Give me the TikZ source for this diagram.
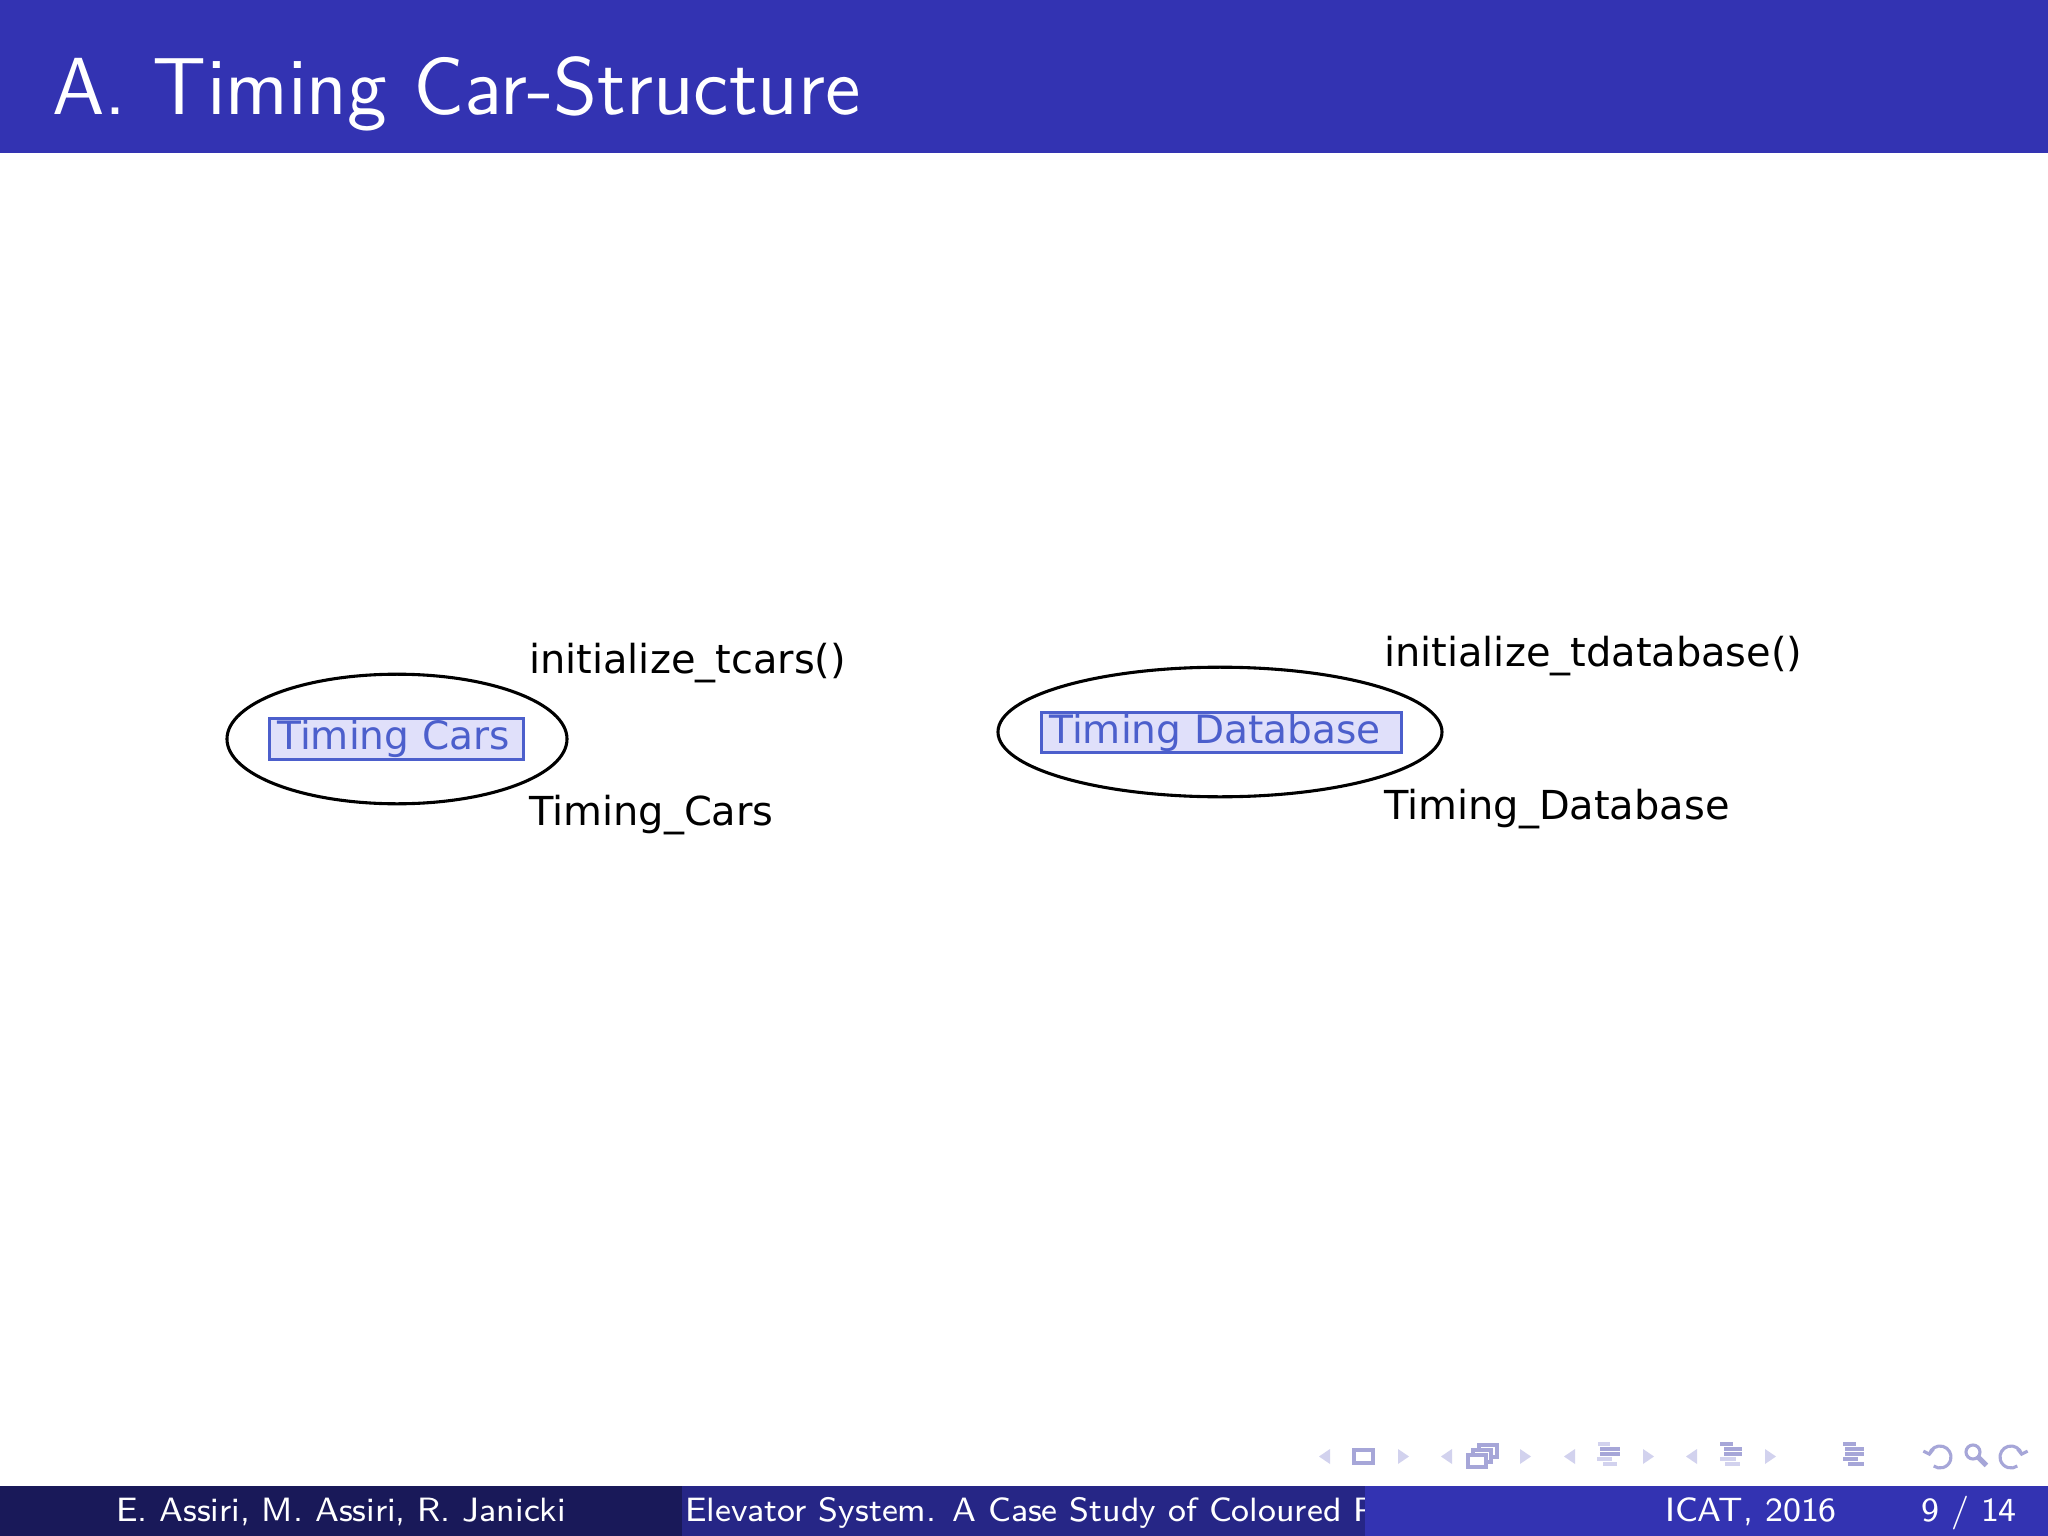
\documentclass[tikz,border=0pt]{standalone}
\usepackage{fontspec}
\newfontfamily\dejavu{DejaVu Sans}
\usetikzlibrary{shapes.geometric}
\definecolor{struct}{rgb}{0.2,0.2,0.7}
\colorlet{footA}{struct!50!black}
\colorlet{footB}{struct!75!black}
\definecolor{boxblue}{HTML}{4C5FCC}
\definecolor{boxfill}{HTML}{E0E0FA}
\definecolor{navlight}{HTML}{D2D2EE}
\definecolor{navdark}{HTML}{A6A6D8}
\tikzset{
  placeell/.style={draw=black, line width=0.55pt, ellipse, inner sep=0pt},
  tokbox/.style={draw=boxblue, fill=boxfill, text=boxblue, line width=0.5pt,
    font=\dejavu\fontsize{6.95}{8}\selectfont, inner ysep=0pt, inner xsep=0.5mm,
    align=left, anchor=west},
  lbl/.style={font=\dejavu\fontsize{7.1}{8}\selectfont, text=black, inner sep=0pt, anchor=base west},
  foottxt/.style={font=\fontsize{6}{7}\sffamily\selectfont, text=white, inner sep=0pt},
  navtri/.style={fill=navlight},
  navline/.style={line width=0.55pt, draw=navdark}
}
\begin{document}
\begin{tikzpicture}[x=0.0625mm,y=-0.0625mm]
\useasboundingbox (0,0) rectangle (2048,1536);
\fill[white] (0,0) rectangle (2048,1536);
% title bar
\fill[struct] (0,0) rectangle (2048,153);
\node[anchor=base west, text=white, inner sep=0pt, font=\fontsize{14.4}{17}\sffamily\selectfont] (title) at (51,114) {A. Timing Car-Structure};

% places
\node[placeell, minimum width=21.25mm, minimum height=8.1mm] (pA) at (397,739) {};
\node[tokbox, text width=14.9mm, minimum height=2.6mm] (bA) at (268,739) {Timing Cars};
\node[lbl] (iA) at (528,673) {initialize\_tcars()};
\node[lbl] (nA) at (528,825) {Timing\_Cars};

\node[placeell, minimum width=27.75mm, minimum height=8.1mm] (pB) at (1220,732) {};
\node[tokbox, text width=21.5mm, minimum height=2.5mm] (bB) at (1040,732.5) {Timing Database};
\node[lbl] (iB) at (1383,666) {initialize\_tdatabase()};
\node[lbl] (nB) at (1383,819) {Timing\_Database};

% footer
\fill[footA] (0,1486) rectangle (682,1536);
\fill[footB] (682,1486) rectangle (1365,1536);
\node[foottxt, anchor=base] (fauth) at (341,1521) {E. Assiri, M. Assiri, R. Janicki};
\begin{scope}
\clip (682,1486) rectangle (1365,1536);
\node[foottxt, anchor=base west] (ftitle) at (684,1521) {Elevator System. A Case Study of Coloured P};
\end{scope}
\fill[struct] (1365,1486) rectangle (2048,1536);
\node[foottxt, anchor=base east] (fdate) at (1838,1521) {ICAT, 2016};
\node[foottxt, anchor=base east] (fpage) at (2018,1521) {9 / 14};

% navigation symbols
\foreach \x in {1330,1452,1575,1697} {
  \fill[navtri] (\x,1449) -- (\x-11,1456.5) -- (\x,1464) -- cycle;
}
\foreach \x in {1398,1520,1643,1765} {
  \fill[navtri] (\x,1449) -- (\x+11,1456.5) -- (\x,1464) -- cycle;
}
% frame square
\draw[navline] (1354,1450) rectangle (1373,1463);
% double squares
\draw[navline] (1479,1445) rectangle (1497,1457);
\fill[white] (1473,1450) rectangle (1491,1462);
\draw[navline] (1473,1450) rectangle (1491,1462);
\fill[white] (1468,1455) rectangle (1486,1467);
\draw[navline] (1468,1455) rectangle (1486,1467);
% subsection lines
\foreach \y/\a/\b/\c in {1444/1598/1610/navlight,1449/1600/1620/navdark,1454/1600/1620/navdark,1459/1597/1612/navlight,1464/1603/1617/navlight} {
  \draw[\c, line width=0.7pt] (\a,\y) -- (\b,\y);
}
\foreach \y/\a/\b/\c in {1444/1720/1733/navdark,1449/1724/1742/navdark,1454/1724/1742/navdark,1459/1720/1736/navlight,1464/1725/1740/navlight} {
  \draw[\c, line width=0.7pt] (\a,\y) -- (\b,\y);
}
\foreach \y/\a/\b in {1444/1843/1856,1449/1845/1864,1454/1845/1864,1459/1843/1858,1464/1848/1864} {
  \draw[navdark, line width=0.7pt] (\a,\y) -- (\b,\y);
}
% undo, search, redo (local y upward)
\begin{scope}[shift={(1940,1457)}, x=0.0625mm, y=0.0625mm]
  \draw[navline] (165:11) arc[start angle=165, end angle=-125, radius=11];
  \draw[navline] (165:11) ++(-6,3) -- (165:11) -- ++(4,5);
\end{scope}
\begin{scope}[shift={(1973,1452)}, x=0.0625mm, y=0.0625mm]
  \draw[navline] (0,0) circle[radius=7];
  \draw[navline, line width=0.9pt] (-45:7) -- (-45:19);
\end{scope}
\begin{scope}[shift={(2011,1457)}, x=0.0625mm, y=0.0625mm]
  \draw[navline] (15:11) arc[start angle=15, end angle=305, radius=11];
  \draw[navline] (15:11) ++(6,3) -- (15:11) -- ++(-4,5);
\end{scope}
\end{tikzpicture}
\end{document}
